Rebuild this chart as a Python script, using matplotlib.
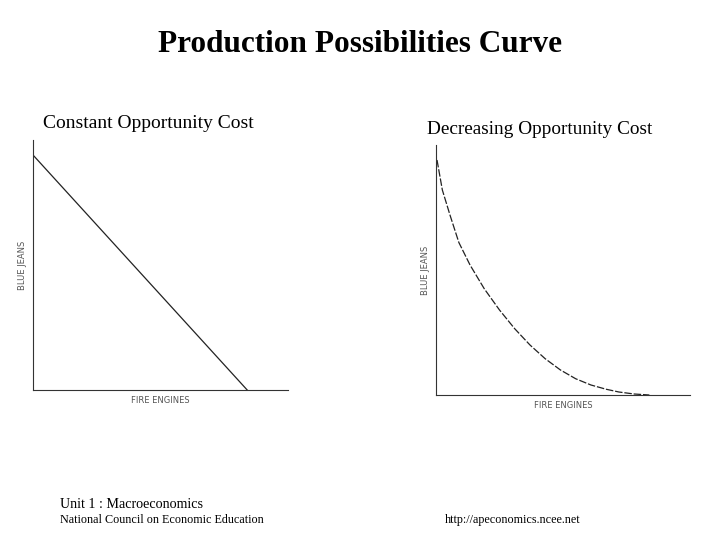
import matplotlib.pyplot as plt

# left panel: straight line (chart units 0-100)
const_x = [0, 84]
const_y = [94, 0]

# right panel: convex curve
decr_x = [0.4, 2.5, 5.5, 9, 13.4, 19, 25, 31, 37, 43, 49, 55, 61, 67, 72, 78, 84]
decr_y = [94, 82, 72, 61, 52, 42.5, 34, 26.5, 20, 14.5, 10, 6.5, 4, 2.3, 1.2, 0.4, 0]

W, H = 720, 540
fig = plt.figure(figsize=(7.2, 5.4), dpi=100)

def px_axes(x0, y_bottom, w, h):
    return fig.add_axes([x0 / W, (H - y_bottom) / H, w / W, h / H])

def style(ax):
    ax.set_xlim(0, 100)
    ax.set_ylim(0, 100)
    ax.set_xticks([])
    ax.set_yticks([])
    for s in ("top", "right"):
        ax.spines[s].set_visible(False)
    for s in ("left", "bottom"):
        ax.spines[s].set_color("#333333")
        ax.spines[s].set_linewidth(0.8)
    ax.set_xlabel("FIRE ENGINES", fontsize=6, color="#555555", family="DejaVu Sans", labelpad=4)
    ax.set_ylabel("BLUE JEANS", fontsize=6, color="#555555", family="DejaVu Sans", labelpad=4)

ax1 = px_axes(33, 390, 255, 250)
style(ax1)
ax1.plot(const_x, const_y, color="#222222", lw=0.9)

ax2 = px_axes(436, 395, 254, 250)
style(ax2)
ax2.plot(decr_x, decr_y, color="#222222", lw=0.9, ls=(0, (6, 1.5)))

serif = "Liberation Serif"
fig.text(360 / W, 1 - 44 / H, "Production Possibilities Curve", ha="center", va="center",
         fontsize=22.5, fontweight="bold", family=serif)
fig.text(43 / W, 1 - 124 / H, "Constant Opportunity Cost", ha="left", va="center",
         fontsize=14, family=serif)
fig.text(427 / W, 1 - 129 / H, "Decreasing Opportunity Cost", ha="left", va="center",
         fontsize=13.9, family=serif)
fig.text(60 / W, 1 - 504 / H, "Unit 1 : Macroeconomics", ha="left", va="center",
         fontsize=10.1, family=serif)
fig.text(60 / W, 1 - 520 / H, "National Council on Economic Education", ha="left", va="center",
         fontsize=8.7, family=serif)
fig.text(445 / W, 1 - 520 / H, "http://apeconomics.ncee.net", ha="left", va="center",
         fontsize=8.7, family=serif)

fig.savefig("out.png", dpi=100)
